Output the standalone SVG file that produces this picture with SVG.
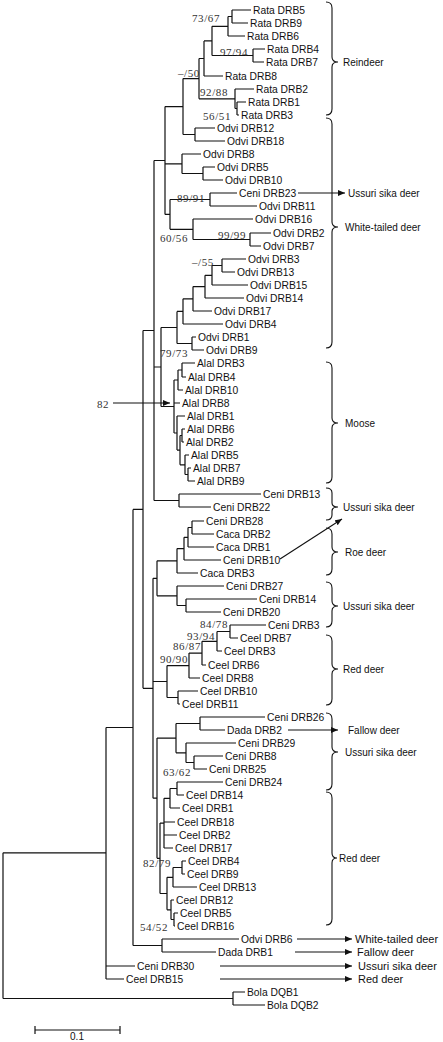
<svg xmlns="http://www.w3.org/2000/svg" width="443" height="1042" viewBox="0 0 443 1042">
<style>
.lf{font-family:"Liberation Sans",Arial,sans-serif;font-size:10.3px;fill:#111}
.bs{font-family:"Liberation Serif","Times New Roman",serif;font-size:11px;fill:#333;letter-spacing:0.6px}
.gp{font-family:"Liberation Sans",Arial,sans-serif;font-size:10px;fill:#111}
.gb{font-family:"Liberation Sans",Arial,sans-serif;font-size:11px;fill:#111}
.br{fill:none;stroke:#111;stroke-width:1.1}
.ln{fill:none;stroke:#111;stroke-width:1.2}
.ar{fill:none;stroke:#111;stroke-width:1.1}
</style>
<defs>
<marker id="ah" markerUnits="userSpaceOnUse" markerWidth="8" markerHeight="7" refX="7" refY="3" orient="auto"><path d="M0,0 L7,3 L0,6 z" fill="#111"/></marker>
</defs>
<rect width="443" height="1042" fill="#fff"/>
<g id="connectors" class="ln">
<path d="M232,10V23 M232,10H251 M232,23H248"/>
<path d="M228,16.5V36 M228,16.5H232 M228,36H245"/>
<path d="M253,49V62 M253,49H265 M253,62H264"/>
<path d="M212,26.3V55.5 M212,26.3H228 M212,55.5H253"/>
<path d="M204,40.9V76 M204,40.9H212 M204,76H223"/>
<path d="M237,102V115 M237,102H246 M237,115H239"/>
<path d="M235,89V108.5 M235,89H254 M235,108.5H237"/>
<path d="M199,58.5V98.8 M199,58.5H204 M199,98.8H235"/>
<path d="M195,128V141 M195,128H215 M195,141H225"/>
<path d="M183,78.6V134.5 M183,78.6H199 M183,134.5H195"/>
<path d="M203,167V180 M203,167H215 M203,180H223"/>
<path d="M182,154V173.5 M182,154H201 M182,173.5H203"/>
<path d="M210,193V206 M210,193H237 M210,206H257"/>
<path d="M250,233V246 M250,233H271 M250,246H261"/>
<path d="M193,219V239.5 M193,219H253 M193,239.5H250"/>
<path d="M170,199.5V229.3 M170,199.5H210 M170,229.3H193"/>
<path d="M165,106.6V214.4 M165,106.6H183 M165,163.8H182 M165,214.4H170"/>
<path d="M222,259V272 M222,259H246 M222,272H235"/>
<path d="M212,265.5V285 M212,265.5H222 M212,285H248"/>
<path d="M205,275.3V298 M205,275.3H212 M205,298H244"/>
<path d="M193,286.6V311 M193,286.6H205 M193,311H212"/>
<path d="M183,298.8V324 M183,298.8H193 M183,324H223"/>
<path d="M192,337V350 M192,337H196 M192,350H204"/>
<path d="M177,311.4V343.5 M177,311.4H183 M177,343.5H192"/>
<path d="M182,363V377 M182,363H195 M182,377H186"/>
<path d="M178,370V390 M178,370H182 M178,390H183"/>
<path d="M182,429V442 M182,429H185 M182,442H184"/>
<path d="M188,468V481 M188,468H191 M188,481H195"/>
<path d="M185,455V474.5 M185,455H189 M185,474.5H188"/>
<path d="M180,435.5V464.8 M180,435.5H182 M180,464.8H185"/>
<path d="M177,416V450.1 M177,416H185 M177,450.1H180"/>
<path d="M174,380V433 M174,380H178 M174,403H180 M174,433H177"/>
<path d="M161,327.5V406.5 M161,327.5H177 M161,406.5H174"/>
<path d="M179,494V507 M179,494H261 M179,507H211"/>
<path d="M154,160.5V500.5 M154,160.5H165 M154,367H161 M154,500.5H179"/>
<path d="M192,521V534 M192,521H204 M192,534H214"/>
<path d="M188,527.5V547 M188,527.5H192 M188,547H214"/>
<path d="M184,537.3V560 M184,537.3H188 M184,560H221"/>
<path d="M177,548.6V573 M177,548.6H184 M177,573H198"/>
<path d="M186,599V612 M186,599H257 M186,612H221"/>
<path d="M177,586V605.5 M177,586H224 M177,605.5H186"/>
<path d="M157,560.8V595.8 M157,560.8H177 M157,595.8H177"/>
<path d="M230,625V638 M230,625H266 M230,638H238"/>
<path d="M217,631.5V651 M217,631.5H230 M217,651H222"/>
<path d="M202,641.3V665 M202,641.3H217 M202,665H206"/>
<path d="M189,653.1V678 M189,653.1H202 M189,678H200"/>
<path d="M178,691V704 M178,691H198 M178,704H180"/>
<path d="M167,665.6V697.5 M167,665.6H189 M167,697.5H178"/>
<path d="M200,717V730 M200,717H265 M200,730H225"/>
<path d="M194,756V769 M194,756H223 M194,769H207"/>
<path d="M186,743V762.5 M186,743H236 M186,762.5H194"/>
<path d="M176,723.5V752.8 M176,723.5H200 M176,752.8H186"/>
<path d="M177,782V795 M177,782H223 M177,795H184"/>
<path d="M170,788.5V808 M170,788.5H177 M170,808H180"/>
<path d="M164,798.3V848 M164,798.3H170 M164,822H175 M164,835H177 M164,848H173"/>
<path d="M182,861V874 M182,861H186 M182,874H185"/>
<path d="M173,867.5V887 M173,867.5H182 M173,887H197"/>
<path d="M174,913V926 M174,913H178 M174,926H175"/>
<path d="M171,900V919.5 M171,900H174 M171,919.5H174"/>
<path d="M167,877.3V909.8 M167,877.3H173 M167,909.8H171"/>
<path d="M160,823.1V893.5 M160,823.1H164 M160,893.5H167"/>
<path d="M157,738.1V858.3 M157,738.1H176 M157,858.3H160"/>
<path d="M153,578.3V798.2 M153,578.3H157 M153,681.5H167 M153,798.2H157"/>
<path d="M143,330.5V688.3 M143,330.5H154 M143,688.3H153"/>
<path d="M162,939V952 M162,939H239 M162,952H216"/>
<path d="M133,509.4V945.5 M133,509.4H143 M133,945.5H162"/>
<path d="M106,727.5V979 M106,727.5H133 M106,966H135 M106,979H124"/>
<path d="M233,992V1005 M233,992H245 M233,1005H265"/>
<path d="M3,852.8V998.5 M3,852.8H106 M3,998.5H233"/>
</g>
<g id="annotation-arrows" class="ar">
<path d="M298,193H345" marker-end="url(#ah)"/>
<path d="M280,559L342,519" marker-end="url(#ah)"/>
<path d="M288,730H338" marker-end="url(#ah)"/>
<path d="M297,939H352" marker-end="url(#ah)"/>
<path d="M295,952H352" marker-end="url(#ah)"/>
<path d="M220,966H352" marker-end="url(#ah)"/>
<path d="M220,979H352" marker-end="url(#ah)"/>
<path d="M113,403H170" marker-end="url(#ah)"/>
</g>
<g id="braces" class="br">
<path d="M326,2 Q332,2 332,8 V57 Q332,62 338,62 Q332,62 332,67 V109 Q332,115 326,115"/>
<path d="M326,118 Q332,118 332,124 V222 Q332,227 338,227 Q332,227 332,232 V342 Q332,348 326,348"/>
<path d="M326,362 Q332,362 332,368 V418 Q332,423 338,423 Q332,423 332,428 V477 Q332,483 326,483"/>
<path d="M326,488 Q332,488 332,493 V503 Q332,507 338,507 Q332,507 332,511 V515 Q332,520 326,520"/>
<path d="M326,528 Q332,528 332,534 V547 Q332,552 338,552 Q332,552 332,557 V569 Q332,575 326,575"/>
<path d="M326,582 Q332,582 332,588 V601 Q332,606 338,606 Q332,606 332,611 V621 Q332,627 326,627"/>
<path d="M326,635 Q332,635 332,641 V664 Q332,669 338,669 Q332,669 332,674 V699 Q332,705 326,705"/>
<path d="M326,713 Q332,713 332,719 V747 Q332,752 338,752 Q332,752 332,757 V784 Q332,790 326,790"/>
<path d="M326,792 Q332,792 332,798 V853 Q332,858 337,858 Q332,858 332,863 V919 Q332,925 326,925"/>
</g>
<g id="group-labels">
<text class="gp" x="343" y="65.5">Reindeer</text>
<text class="gp" x="348" y="196.5">Ussuri sika deer</text>
<text class="gp" x="345" y="230.5">White-tailed deer</text>
<text class="gp" x="345" y="426.5">Moose</text>
<text class="gp" x="343" y="510.5">Ussuri sika deer</text>
<text class="gp" x="345" y="555.5">Roe deer</text>
<text class="gp" x="343" y="609.5">Ussuri sika deer</text>
<text class="gp" x="343" y="672.5">Red deer</text>
<text class="gp" x="348" y="733.5">Fallow deer</text>
<text class="gp" x="345" y="755.5">Ussuri sika deer</text>
<text class="gp" x="339" y="861.5">Red deer</text>
<text class="gb" x="355" y="943">White-tailed deer</text>
<text class="gb" x="357" y="956">Fallow deer</text>
<text class="gb" x="358" y="970">Ussuri sika deer</text>
<text class="gb" x="358" y="983">Red deer</text>
</g>
<g id="bootstrap">
<text class="bs" x="192" y="22">73/67</text>
<text class="bs" x="220" y="56">97/94</text>
<text class="bs" x="178" y="77">–/50</text>
<text class="bs" x="200" y="96">92/88</text>
<text class="bs" x="203" y="120">56/51</text>
<text class="bs" x="177" y="202">89/91</text>
<text class="bs" x="218" y="239">99/99</text>
<text class="bs" x="160" y="242">60/56</text>
<text class="bs" x="192" y="266">–/55</text>
<text class="bs" x="160" y="357">79/73</text>
<text class="bs" x="97" y="408">82</text>
<text class="bs" x="200" y="628">84/78</text>
<text class="bs" x="187" y="640">93/94</text>
<text class="bs" x="173" y="650">86/87</text>
<text class="bs" x="160" y="663">90/90</text>
<text class="bs" x="163" y="776">63/62</text>
<text class="bs" x="143" y="867">82/79</text>
<text class="bs" x="140" y="931">54/52</text>
</g>
<g id="scale-bar">
<path class="ln" d="M35,1030H120 M35,1026V1034 M120,1026V1034"/>
<text class="gp" x="77" y="1040" text-anchor="middle">0.1</text>
</g>
<g id="leaves">
<g id="n-rata-drb5"><text class="lf" x="253" y="13.6">Rata DRB5</text></g>
<g id="n-rata-drb9"><text class="lf" x="250" y="26.6">Rata DRB9</text></g>
<g id="n-rata-drb6"><text class="lf" x="247" y="39.6">Rata DRB6</text></g>
<g id="n-rata-drb4"><text class="lf" x="267" y="52.6">Rata DRB4</text></g>
<g id="n-rata-drb7"><text class="lf" x="266" y="65.6">Rata DRB7</text></g>
<g id="n-rata-drb8"><text class="lf" x="225" y="79.6">Rata DRB8</text></g>
<g id="n-rata-drb2"><text class="lf" x="256" y="92.6">Rata DRB2</text></g>
<g id="n-rata-drb1"><text class="lf" x="248" y="105.6">Rata DRB1</text></g>
<g id="n-rata-drb3"><text class="lf" x="241" y="118.6">Rata DRB3</text></g>
<g id="n-odvi-drb12"><text class="lf" x="217" y="131.6">Odvi DRB12</text></g>
<g id="n-odvi-drb18"><text class="lf" x="227" y="144.6">Odvi DRB18</text></g>
<g id="n-odvi-drb8"><text class="lf" x="203" y="157.6">Odvi DRB8</text></g>
<g id="n-odvi-drb5"><text class="lf" x="217" y="170.6">Odvi DRB5</text></g>
<g id="n-odvi-drb10"><text class="lf" x="225" y="183.6">Odvi DRB10</text></g>
<g id="n-ceni-drb23"><text class="lf" x="239" y="196.6">Ceni DRB23</text></g>
<g id="n-odvi-drb11"><text class="lf" x="259" y="209.6">Odvi DRB11</text></g>
<g id="n-odvi-drb16"><text class="lf" x="255" y="222.6">Odvi DRB16</text></g>
<g id="n-odvi-drb2"><text class="lf" x="273" y="236.6">Odvi DRB2</text></g>
<g id="n-odvi-drb7"><text class="lf" x="263" y="249.6">Odvi DRB7</text></g>
<g id="n-odvi-drb3"><text class="lf" x="248" y="262.6">Odvi DRB3</text></g>
<g id="n-odvi-drb13"><text class="lf" x="237" y="275.6">Odvi DRB13</text></g>
<g id="n-odvi-drb15"><text class="lf" x="250" y="288.6">Odvi DRB15</text></g>
<g id="n-odvi-drb14"><text class="lf" x="246" y="301.6">Odvi DRB14</text></g>
<g id="n-odvi-drb17"><text class="lf" x="214" y="314.6">Odvi DRB17</text></g>
<g id="n-odvi-drb4"><text class="lf" x="225" y="327.6">Odvi DRB4</text></g>
<g id="n-odvi-drb1"><text class="lf" x="198" y="340.6">Odvi DRB1</text></g>
<g id="n-odvi-drb9"><text class="lf" x="206" y="353.6">Odvi DRB9</text></g>
<g id="n-alal-drb3"><text class="lf" x="197" y="366.6">Alal DRB3</text></g>
<g id="n-alal-drb4"><text class="lf" x="188" y="380.6">Alal DRB4</text></g>
<g id="n-alal-drb10"><text class="lf" x="185" y="393.6">Alal DRB10</text></g>
<g id="n-alal-drb8"><text class="lf" x="182" y="406.6">Alal DRB8</text></g>
<g id="n-alal-drb1"><text class="lf" x="187" y="419.6">Alal DRB1</text></g>
<g id="n-alal-drb6"><text class="lf" x="187" y="432.6">Alal DRB6</text></g>
<g id="n-alal-drb2"><text class="lf" x="186" y="445.6">Alal DRB2</text></g>
<g id="n-alal-drb5"><text class="lf" x="191" y="458.6">Alal DRB5</text></g>
<g id="n-alal-drb7"><text class="lf" x="193" y="471.6">Alal DRB7</text></g>
<g id="n-alal-drb9"><text class="lf" x="197" y="484.6">Alal DRB9</text></g>
<g id="n-ceni-drb13"><text class="lf" x="263" y="497.6">Ceni DRB13</text></g>
<g id="n-ceni-drb22"><text class="lf" x="213" y="510.6">Ceni DRB22</text></g>
<g id="n-ceni-drb28"><text class="lf" x="206" y="524.6">Ceni DRB28</text></g>
<g id="n-caca-drb2"><text class="lf" x="216" y="537.6">Caca DRB2</text></g>
<g id="n-caca-drb1"><text class="lf" x="216" y="550.6">Caca DRB1</text></g>
<g id="n-ceni-drb10"><text class="lf" x="223" y="563.6">Ceni DRB10</text></g>
<g id="n-caca-drb3"><text class="lf" x="200" y="576.6">Caca DRB3</text></g>
<g id="n-ceni-drb27"><text class="lf" x="226" y="589.6">Ceni DRB27</text></g>
<g id="n-ceni-drb14"><text class="lf" x="259" y="602.6">Ceni DRB14</text></g>
<g id="n-ceni-drb20"><text class="lf" x="223" y="615.6">Ceni DRB20</text></g>
<g id="n-ceni-drb3"><text class="lf" x="268" y="628.6">Ceni DRB3</text></g>
<g id="n-ceel-drb7"><text class="lf" x="240" y="641.6">Ceel DRB7</text></g>
<g id="n-ceel-drb3"><text class="lf" x="224" y="654.6">Ceel DRB3</text></g>
<g id="n-ceel-drb6"><text class="lf" x="208" y="668.6">Ceel DRB6</text></g>
<g id="n-ceel-drb8"><text class="lf" x="202" y="681.6">Ceel DRB8</text></g>
<g id="n-ceel-drb10"><text class="lf" x="200" y="694.6">Ceel DRB10</text></g>
<g id="n-ceel-drb11"><text class="lf" x="182" y="707.6">Ceel DRB11</text></g>
<g id="n-ceni-drb26"><text class="lf" x="267" y="720.6">Ceni DRB26</text></g>
<g id="n-dada-drb2"><text class="lf" x="227" y="733.6">Dada DRB2</text></g>
<g id="n-ceni-drb29"><text class="lf" x="238" y="746.6">Ceni DRB29</text></g>
<g id="n-ceni-drb8"><text class="lf" x="225" y="759.6">Ceni DRB8</text></g>
<g id="n-ceni-drb25"><text class="lf" x="209" y="772.6">Ceni DRB25</text></g>
<g id="n-ceni-drb24"><text class="lf" x="225" y="785.6">Ceni DRB24</text></g>
<g id="n-ceel-drb14"><text class="lf" x="186" y="798.6">Ceel DRB14</text></g>
<g id="n-ceel-drb1"><text class="lf" x="182" y="811.6">Ceel DRB1</text></g>
<g id="n-ceel-drb18"><text class="lf" x="177" y="825.6">Ceel DRB18</text></g>
<g id="n-ceel-drb2"><text class="lf" x="179" y="838.6">Ceel DRB2</text></g>
<g id="n-ceel-drb17"><text class="lf" x="175" y="851.6">Ceel DRB17</text></g>
<g id="n-ceel-drb4"><text class="lf" x="188" y="864.6">Ceel DRB4</text></g>
<g id="n-ceel-drb9"><text class="lf" x="187" y="877.6">Ceel DRB9</text></g>
<g id="n-ceel-drb13"><text class="lf" x="199" y="890.6">Ceel DRB13</text></g>
<g id="n-ceel-drb12"><text class="lf" x="176" y="903.6">Ceel DRB12</text></g>
<g id="n-ceel-drb5"><text class="lf" x="180" y="916.6">Ceel DRB5</text></g>
<g id="n-ceel-drb16"><text class="lf" x="177" y="929.6">Ceel DRB16</text></g>
<g id="n-odvi-drb6"><text class="lf" x="241" y="942.6">Odvi DRB6</text></g>
<g id="n-dada-drb1"><text class="lf" x="218" y="955.6">Dada DRB1</text></g>
<g id="n-ceni-drb30"><text class="lf" x="137" y="969.6">Ceni DRB30</text></g>
<g id="n-ceel-drb15"><text class="lf" x="126" y="982.6">Ceel DRB15</text></g>
<g id="n-bola-dqb1"><text class="lf" x="247" y="995.6">Bola DQB1</text></g>
<g id="n-bola-dqb2"><text class="lf" x="267" y="1008.6">Bola DQB2</text></g>
</g>
</svg>
